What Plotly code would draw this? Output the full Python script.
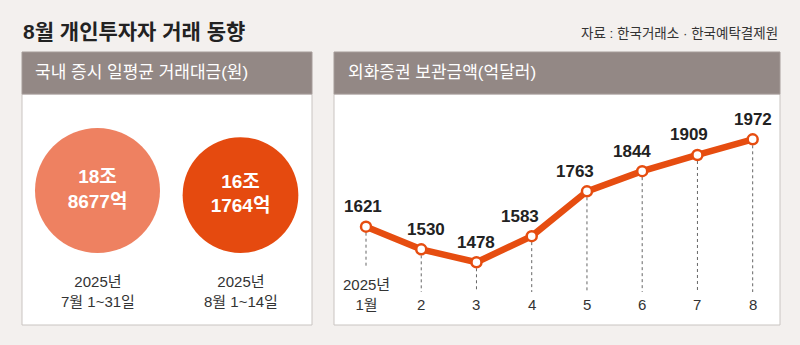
import plotly.graph_objects as go

# ---------------- data ----------------
bubble_values = [188677, 161764]          # 억원 (18조 8677억, 16조 1764억)
bubble_periods = ["2025년<br>7월 1~31일", "2025년<br>8월 1~14일"]
bubble_colors = ["#ee8161", "#e54a0f"]

months = [1, 2, 3, 4, 5, 6, 7, 8]
holdings = [1621, 1530, 1478, 1583, 1763, 1844, 1909, 1972]   # 억달러
month_labels = ["2025년<br>1월", "2", "3", "4", "5", "6", "7", "8"]

title_text = "8월 개인투자자 거래 동향"
source_text = "자료 : 한국거래소 · 한국예탁결제원"
left_header = "국내 증시 일평균 거래대금(원)"
right_header = "외화증권 보관금액(억달러)"

# ---------------- layout helpers ----------------
W, H = 800, 345
FONT = "Liberation Sans, Noto Sans CJK KR, sans-serif"
BG = "#f3f0ee"
HEAD = "#938885"
BORDER = "#c9c4c1"
LINE = "#e64d10"


def px(x):
    return x / W


def py(y):
    return 1 - y / H


box_top, head_top, box_bottom = 94, 52, 325
L0, L1 = 22, 312
R0, R1 = 334, 780

# right chart value axis (data units)
y_range = [1226, 2154]


def val_at_px(ypix):
    frac = (box_bottom - ypix) / (box_bottom - box_top)
    return y_range[0] + frac * (y_range[1] - y_range[0])


fig = go.Figure()

# ---- bubbles (area proportional) ----
k = 125 / (max(bubble_values) ** 0.5)
diam = [k * v ** 0.5 for v in bubble_values]
baseline = 253
bubble_y = [baseline - d / 2 for d in diam]
bubble_text = [f"{v // 10000}조<br>{v % 10000}억" for v in bubble_values]

fig.add_trace(go.Scatter(
    x=[0, 1], y=bubble_y, mode="markers+text",
    marker=dict(size=diam, sizemode="diameter", color=bubble_colors,
                opacity=1, line=dict(width=0)),
    text=bubble_text, textposition="middle center",
    textfont=dict(family=FONT, size=19, color="white", weight="bold"),
    xaxis="x", yaxis="y", hoverinfo="skip", cliponaxis=False,
))

# ---- line chart ----
drop_x, drop_y = [], []
for i, (m, v) in enumerate(zip(months, holdings)):
    stop = val_at_px(268 if i == 0 else 292)
    drop_x += [m, m, None]
    drop_y += [v, stop, None]
fig.add_trace(go.Scatter(
    x=drop_x, y=drop_y, mode="lines",
    line=dict(color="#666666", width=1, dash="dot"),
    xaxis="x2", yaxis="y2", hoverinfo="skip",
))
fig.add_trace(go.Scatter(
    x=months, y=holdings, mode="lines+markers",
    line=dict(color=LINE, width=6.5),
    marker=dict(size=10, color="white", opacity=1, line=dict(color=LINE, width=2.5)),
    xaxis="x2", yaxis="y2", hoverinfo="skip", cliponaxis=False,
))

# ---------------- shapes ----------------
shapes = []
for a, b in [(L0, L1), (R0, R1)]:
    shapes.append(dict(type="rect", xref="paper", yref="paper",
                       x0=px(a), x1=px(b), y0=py(box_bottom), y1=py(box_top),
                       fillcolor="white", line=dict(color=BORDER, width=1), layer="below"))
    shapes.append(dict(type="rect", xref="paper", yref="paper",
                       x0=px(a), x1=px(b), y0=py(box_top), y1=py(head_top),
                       fillcolor=HEAD, line=dict(color="#a59c99", width=1), layer="below"))

# ---------------- annotations ----------------
ann = []
ann.append(dict(text=title_text, xref="paper", yref="paper", x=px(21), y=py(31),
                xanchor="left", yanchor="middle", showarrow=False,
                font=dict(family=FONT, size=21, color="#222222", weight="bold")))
ann.append(dict(text=source_text, xref="paper", yref="paper", x=px(780), y=py(33),
                xanchor="right", yanchor="middle", showarrow=False,
                font=dict(family=FONT, size=13.5, color="#333333")))
ann.append(dict(text=left_header, xref="paper", yref="paper", x=px(33), y=py(73),
                xanchor="left", yanchor="middle", showarrow=False,
                font=dict(family=FONT, size=17, color="white")))
ann.append(dict(text=right_header, xref="paper", yref="paper", x=px(346), y=py(73),
                xanchor="left", yanchor="middle", showarrow=False,
                font=dict(family=FONT, size=17, color="white")))

for i, lab in enumerate(bubble_periods):
    ann.append(dict(text=lab, xref="x", yref="paper", x=i, y=py(291),
                    xanchor="center", yanchor="middle", showarrow=False,
                    font=dict(family=FONT, size=15, color="#333333")))

label_dx = [-3, 5, 0, -12, -12, -10, -8, 0]
for m, v, dx in zip(months, holdings, label_dx):
    ann.append(dict(text=f"{v}", xref="x2", yref="y2", x=m, y=v, xshift=dx, yshift=20,
                    xanchor="center", yanchor="middle", showarrow=False,
                    font=dict(family=FONT, size=17, color="#222222", weight="bold")))

for m, lab in zip(months, month_labels):
    ann.append(dict(text=lab, xref="x2", yref="paper", x=m, y=py(315),
                    xanchor="center", yanchor="bottom", showarrow=False,
                    font=dict(family=FONT, size=15, color="#333333")))

hidden = dict(visible=False, showgrid=False, zeroline=False, fixedrange=True)

# bubble axes: x categories 0/1 placed at 97.5 and 240.5 px
bx0, bx1 = 97.5, 240.5
span = bx1 - bx0
fig.update_layout(
    width=W, height=H,
    margin=dict(l=0, r=0, t=0, b=0),
    paper_bgcolor=BG, plot_bgcolor="rgba(0,0,0,0)",
    showlegend=False,
    shapes=shapes, annotations=ann,
    xaxis=dict(domain=[px(L0), px(L1)], range=[-(bx0 - L0) / span, (L1 - bx0) / span], **hidden),
    yaxis=dict(domain=[py(box_bottom), py(box_top)], range=[box_bottom, box_top], **hidden),
    xaxis2=dict(domain=[px(R0), px(R1)], range=[1 - (366 - R0) / 55.24, 1 + (R1 - 366) / 55.24],
                anchor="y2", **hidden),
    yaxis2=dict(domain=[py(box_bottom), py(box_top)], range=y_range, anchor="x2", **hidden),
)

fig.write_html("out.html")
